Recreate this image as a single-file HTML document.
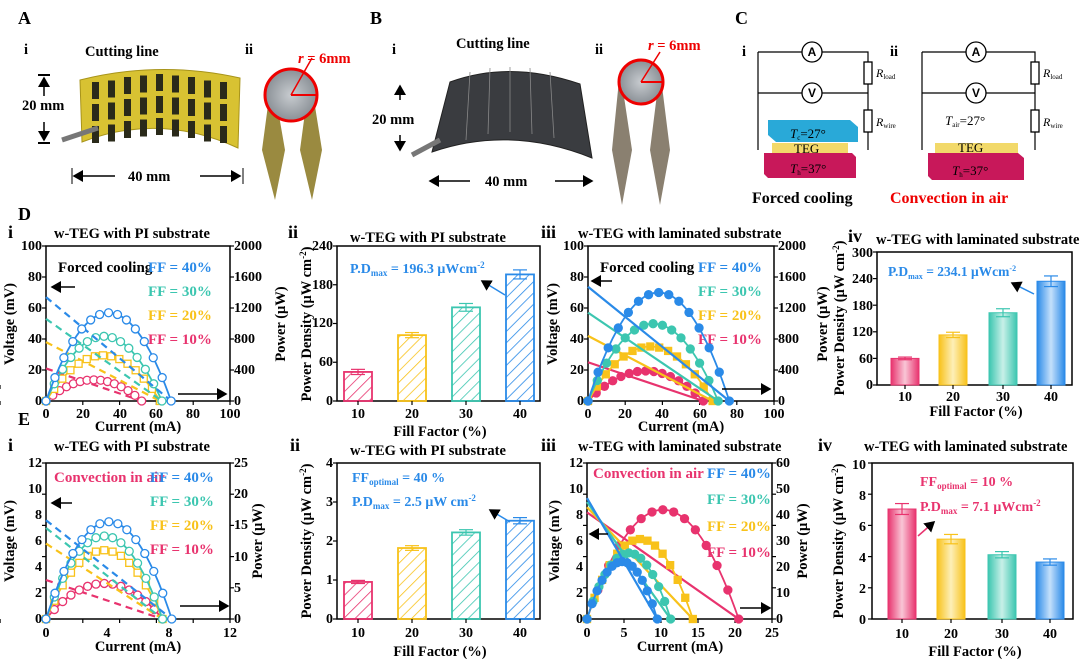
<!DOCTYPE html>
<html><head><meta charset="utf-8"><style>
html,body{margin:0;padding:0;background:#fff;}
svg{display:block;font-family:"Liberation Serif",serif;font-weight:bold;}
.t{font-size:14.5px;}
.k{font-size:14px;}
.L{font-size:18px;}
</style></head><body>
<svg id="s" width="1080" height="667" viewBox="0 0 1080 667" xmlns="http://www.w3.org/2000/svg">
<defs>
<pattern id="hp" width="8" height="8" patternUnits="userSpaceOnUse" patternTransform="rotate(45)"><line x1="0" y1="0" x2="0" y2="8" stroke="#e8336e" stroke-width="1.6"/></pattern>
<pattern id="hy" width="8" height="8" patternUnits="userSpaceOnUse" patternTransform="rotate(45)"><line x1="0" y1="0" x2="0" y2="8" stroke="#f8c21a" stroke-width="1.6"/></pattern>
<pattern id="ht" width="8" height="8" patternUnits="userSpaceOnUse" patternTransform="rotate(45)"><line x1="0" y1="0" x2="0" y2="8" stroke="#3cc6b0" stroke-width="1.6"/></pattern>
<pattern id="hb" width="8" height="8" patternUnits="userSpaceOnUse" patternTransform="rotate(45)"><line x1="0" y1="0" x2="0" y2="8" stroke="#2a8ae8" stroke-width="1.6"/></pattern>
<linearGradient id="gp"><stop offset="0" stop-color="#e8336e"/><stop offset=".5" stop-color="#f9c6d6"/><stop offset="1" stop-color="#e8336e"/></linearGradient>
<linearGradient id="gy"><stop offset="0" stop-color="#f8c21a"/><stop offset=".5" stop-color="#fdefb8"/><stop offset="1" stop-color="#f8c21a"/></linearGradient>
<linearGradient id="gt"><stop offset="0" stop-color="#3cc6b0"/><stop offset=".5" stop-color="#c8f0e8"/><stop offset="1" stop-color="#3cc6b0"/></linearGradient>
<linearGradient id="gb"><stop offset="0" stop-color="#2a8ae8"/><stop offset=".5" stop-color="#c4e0fb"/><stop offset="1" stop-color="#2a8ae8"/></linearGradient>
<radialGradient id="disc"><stop offset="0" stop-color="#c8ccd0"/><stop offset="1" stop-color="#8a9096"/></radialGradient>
<marker id="ah" markerWidth="8" markerHeight="8" refX="6" refY="4" orient="auto"><path d="M0,0 L7,4 L0,8 Z" fill="#000"/></marker>
</defs>

<!-- ===== Top section ===== -->
<text x="18" y="24" class="L">A</text>
<text x="24" y="54" class="t" font-size="15">i</text>
<text x="245" y="54" class="t" font-size="15">ii</text>
<text x="85" y="56" class="t" font-size="15">Cutting line</text>
<path d="M80,80 Q160,60 240,78 L238,148 Q160,112 82,142 Z" fill="#d8c232" stroke="#a8941a"/>
<g id="ygrid"></g>
<path d="M62,140 L98,128" stroke="#777" stroke-width="5"/>
<text x="22" y="110" class="t" font-size="15">20 mm</text>
<line x1="44" y1="96" x2="44" y2="78" stroke="#000" stroke-width="1.5" marker-end="url(#ah)"/>
<line x1="44" y1="122" x2="44" y2="140" stroke="#000" stroke-width="1.5" marker-end="url(#ah)"/>
<line x1="38" y1="75" x2="50" y2="75" stroke="#000" stroke-width="2"/>
<line x1="38" y1="143" x2="50" y2="143" stroke="#000" stroke-width="2"/>
<text x="128" y="181" class="t" font-size="15">40 mm</text>
<line x1="115" y1="176" x2="74" y2="176" stroke="#000" stroke-width="1.5" marker-end="url(#ah)"/>
<line x1="200" y1="176" x2="240" y2="176" stroke="#000" stroke-width="1.5" marker-end="url(#ah)"/>
<line x1="72" y1="168" x2="72" y2="184" stroke="#000"/><line x1="243" y1="168" x2="243" y2="184" stroke="#000"/>
<path d="M272,75 L262,150 L275,200 L285,150 Z M310,75 L322,150 L312,200 L300,150 Z" fill="#9a8a40"/>
<circle cx="291" cy="95" r="26" fill="url(#disc)" stroke="#e00" stroke-width="3"/>
<line x1="291" y1="95" x2="317" y2="95" stroke="#e00" stroke-width="2"/><line x1="291" y1="95" x2="312" y2="58" stroke="#e00" stroke-width="1.5"/>
<text x="298" y="63" class="t" font-size="16" fill="#e00"><tspan font-style="italic">r</tspan> = 6mm</text>

<text x="370" y="24" class="L">B</text>
<text x="392" y="54" class="t" font-size="15">i</text>
<text x="595" y="54" class="t" font-size="15">ii</text>
<text x="456" y="48" class="t" font-size="15">Cutting line</text>
<path d="M450,82 Q510,60 580,84 L592,158 Q510,125 432,152 Z" fill="#3a3c40" stroke="#222"/>
<g stroke="#888" stroke-width="0.8"><line x1="470" y1="72" x2="466" y2="140"/><line x1="490" y1="68" x2="488" y2="134"/><line x1="510" y1="67" x2="510" y2="132"/><line x1="530" y1="68" x2="532" y2="134"/><line x1="550" y1="72" x2="554" y2="138"/></g>
<path d="M412,155 L440,140" stroke="#777" stroke-width="5"/>
<text x="372" y="124" class="t" font-size="15">20 mm</text>
<line x1="400" y1="100" x2="400" y2="86" stroke="#000" stroke-width="1.5" marker-end="url(#ah)"/>
<line x1="400" y1="135" x2="400" y2="150" stroke="#000" stroke-width="1.5" marker-end="url(#ah)"/>
<text x="485" y="186" class="t" font-size="15">40 mm</text>
<line x1="470" y1="181" x2="430" y2="181" stroke="#000" stroke-width="1.5" marker-end="url(#ah)"/>
<line x1="555" y1="181" x2="592" y2="181" stroke="#000" stroke-width="1.5" marker-end="url(#ah)"/>
<path d="M620,70 L612,150 L622,205 L632,150 Z M660,70 L670,150 L660,205 L650,150 Z" fill="#8a8070"/>
<circle cx="641" cy="82" r="22" fill="url(#disc)" stroke="#e00" stroke-width="3"/>
<line x1="641" y1="82" x2="663" y2="82" stroke="#e00" stroke-width="2"/><line x1="641" y1="82" x2="660" y2="52" stroke="#e00" stroke-width="1.5"/>
<text x="648" y="50" class="t" font-size="16" fill="#e00"><tspan font-style="italic">r</tspan> = 6mm</text>

<text x="735" y="24" class="L">C</text>
<text x="742" y="56" class="t" font-size="15">i</text>
<text x="890" y="56" class="t" font-size="15">ii</text>
<g fill="none" stroke="#000" stroke-width="1.2">
<path d="M758,52 H868 V150 M758,52 V150 M758,93 H868"/>
<path d="M922,52 H1035 V150 M922,52 V150 M922,93 H1035"/>
</g>
<g fill="#fff" stroke="#000" stroke-width="1.3">
<circle cx="812" cy="52" r="10"/><circle cx="812" cy="93" r="10"/>
<circle cx="976" cy="52" r="10"/><circle cx="976" cy="93" r="10"/>
<rect x="864" y="62" width="8" height="22"/><rect x="864" y="110" width="8" height="22"/>
<rect x="1031" y="62" width="8" height="22"/><rect x="1031" y="110" width="8" height="22"/>
</g>
<g font-size="12" text-anchor="middle" font-family="Liberation Sans,sans-serif"><text x="812" y="56">A</text><text x="812" y="97">V</text><text x="976" y="56">A</text><text x="976" y="97">V</text></g>
<g font-size="12" font-style="italic" font-weight="normal"><text x="876" y="77">R<tspan font-size="7" font-style="normal" dy="2">load</tspan></text><text x="876" y="126">R<tspan font-size="7" font-style="normal" dy="2">wire</tspan></text><text x="1043" y="77">R<tspan font-size="7" font-style="normal" dy="2">load</tspan></text><text x="1043" y="126">R<tspan font-size="7" font-style="normal" dy="2">wire</tspan></text></g>
<path d="M768,120 L850,120 L858,127 L858,142 L776,142 L768,135 Z" fill="#29a9d8"/>
<path d="M772,143 H848 V153 H772 Z" fill="#f2d96a"/>
<path d="M764,153 L852,153 L856,157 L856,178 L768,178 L764,174 Z" fill="#c8185a"/>
<text x="790" y="138" font-size="13" font-weight="normal"><tspan font-style="italic">T</tspan><tspan font-size="7" dy="2">c</tspan><tspan dy="-2">=27°</tspan></text>
<text x="794" y="153" font-size="13" font-weight="normal">TEG</text>
<text x="790" y="173" font-size="13" font-weight="normal"><tspan font-style="italic">T</tspan><tspan font-size="7" dy="2">h</tspan><tspan dy="-2">=37°</tspan></text>
<path d="M935,143 H1018 V153 H935 Z" fill="#f2d96a"/>
<path d="M928,153 L1018,153 L1024,158 L1024,180 L932,180 L928,176 Z" fill="#c8185a"/>
<text x="945" y="125" font-size="13" font-weight="normal"><tspan font-style="italic">T</tspan><tspan font-size="7" dy="2">air</tspan><tspan dy="-2">=27°</tspan></text>
<text x="958" y="152" font-size="13" font-weight="normal">TEG</text>
<text x="952" y="175" font-size="13" font-weight="normal"><tspan font-style="italic">T</tspan><tspan font-size="7" dy="2">h</tspan><tspan dy="-2">=37°</tspan></text>
<text x="752" y="203" font-size="16">Forced cooling</text>
<text x="890" y="203" font-size="16" fill="#e00">Convection in air</text>

<!-- ===== D row ===== -->
<text x="18" y="220" class="L">D</text>
<text x="8" y="238" class="L" font-size="16">i</text>
<text x="54" y="238" class="t">w-TEG with PI substrate</text>
<text x="288" y="238" class="L" font-size="16">ii</text>
<text x="350" y="242" class="t">w-TEG with PI substrate</text>
<text x="541" y="238" class="L" font-size="16">iii</text>
<text x="578" y="238" class="t">w-TEG with laminated substrate</text>
<text x="848" y="242" class="L" font-size="16">iv</text>
<text x="876" y="244" class="t">w-TEG with laminated substrate</text>

<!-- D i -->
<g class="k" text-anchor="end"><text x="42" y="405">0</text><text x="42" y="374">20</text><text x="42" y="343">40</text><text x="42" y="312">60</text><text x="42" y="281">80</text><text x="42" y="250">100</text></g>
<g class="k"><text x="234" y="405">0</text><text x="234" y="374">400</text><text x="234" y="343">800</text><text x="234" y="312">1200</text><text x="234" y="281">1600</text><text x="234" y="250">2000</text></g>
<g class="k" text-anchor="middle"><text x="46" y="418">0</text><text x="83" y="418">20</text><text x="120" y="418">40</text><text x="156" y="418">60</text><text x="193" y="418">80</text><text x="230" y="418">100</text></g>
<text x="138" y="431" class="t" text-anchor="middle">Current (mA)</text>
<text transform="translate(14,324) rotate(-90)" class="t" text-anchor="middle">Voltage (mV)</text>
<text transform="translate(285,324) rotate(-90)" class="t" text-anchor="middle">Power (μW)</text>
<text x="58" y="272" font-size="15">Forced cooling</text>
<g font-size="15"><text x="148" y="272" fill="#2a8ae8">FF = 40%</text><text x="148" y="296" fill="#3cc6b0">FF = 30%</text><text x="148" y="320" fill="#f8c21a">FF = 20%</text><text x="148" y="344" fill="#e8336e">FF = 10%</text></g>

<!-- D ii -->
<g class="k" text-anchor="end"><text x="333" y="405">0</text><text x="333" y="366">60</text><text x="333" y="327">120</text><text x="333" y="289">180</text><text x="333" y="250">240</text></g>
<g class="k" text-anchor="middle"><text x="358" y="418">10</text><text x="412" y="418">20</text><text x="466" y="418">30</text><text x="520" y="418">40</text></g>
<text x="440" y="436" class="t" text-anchor="middle">Fill Factor (%)</text>
<text transform="translate(311,324) rotate(-90)" class="t" text-anchor="middle">Power Density (μW cm<tspan dy="-5" font-size="9">-2</tspan><tspan dy="5">)</tspan></text>
<text x="350" y="273" font-size="14" fill="#2a8ae8">P.D<tspan font-size="9" dy="3">max</tspan><tspan dy="-3"> = 196.3 μWcm</tspan><tspan font-size="9" dy="-5">-2</tspan></text>

<!-- D iii -->
<g class="k" text-anchor="end"><text x="584" y="405">0</text><text x="584" y="374">20</text><text x="584" y="343">40</text><text x="584" y="312">60</text><text x="584" y="281">80</text><text x="584" y="250">100</text></g>
<g class="k"><text x="778" y="405">0</text><text x="778" y="374">400</text><text x="778" y="343">800</text><text x="778" y="312">1200</text><text x="778" y="281">1600</text><text x="778" y="250">2000</text></g>
<g class="k" text-anchor="middle"><text x="588" y="418">0</text><text x="625" y="418">20</text><text x="662" y="418">40</text><text x="700" y="418">60</text><text x="737" y="418">80</text><text x="774" y="418">100</text></g>
<text x="681" y="431" class="t" text-anchor="middle">Current (mA)</text>
<text transform="translate(557,324) rotate(-90)" class="t" text-anchor="middle">Voltage (mV)</text>
<text transform="translate(827,324) rotate(-90)" class="t" text-anchor="middle">Power (μW)</text>
<text x="600" y="272" font-size="15">Forced cooling</text>
<g font-size="15"><text x="698" y="272" fill="#2a8ae8">FF = 40%</text><text x="698" y="296" fill="#3cc6b0">FF = 30%</text><text x="698" y="320" fill="#f8c21a">FF = 20%</text><text x="698" y="344" fill="#e8336e">FF = 10%</text></g>

<!-- D iv -->
<g class="k" text-anchor="end"><text x="873" y="389">0</text><text x="873" y="363">60</text><text x="873" y="336">120</text><text x="873" y="310">180</text><text x="873" y="283">240</text><text x="873" y="257">300</text></g>
<g class="k" text-anchor="middle"><text x="905" y="401">10</text><text x="953" y="401">20</text><text x="1003" y="401">30</text><text x="1051" y="401">40</text></g>
<text x="976" y="416" class="t" text-anchor="middle">Fill Factor (%)</text>
<text transform="translate(844,318) rotate(-90)" class="t" text-anchor="middle">Power Density (μW cm<tspan dy="-5" font-size="9">-2</tspan><tspan dy="5">)</tspan></text>
<text x="888" y="276" font-size="13.5" fill="#2a8ae8">P.D<tspan font-size="8" dy="3">max</tspan><tspan dy="-3"> = 234.1 μWcm</tspan><tspan font-size="8" dy="-5">-2</tspan></text>

<!-- ===== E row ===== -->
<text x="18" y="425" class="L">E</text>
<text x="8" y="451" class="L" font-size="16">i</text>
<text x="54" y="451" class="t">w-TEG with PI substrate</text>
<text x="290" y="451" class="L" font-size="16">ii</text>
<text x="350" y="455" class="t">w-TEG with PI substrate</text>
<text x="541" y="451" class="L" font-size="16">iii</text>
<text x="578" y="451" class="t">w-TEG with laminated substrate</text>
<text x="818" y="451" class="L" font-size="16">iv</text>
<text x="864" y="451" class="t">w-TEG with laminated substrate</text>

<!-- E i -->
<g class="k" text-anchor="end"><text x="42" y="623">0</text><text x="42" y="597">2</text><text x="42" y="571">4</text><text x="42" y="545">6</text><text x="42" y="519">8</text><text x="42" y="493">10</text><text x="42" y="467">12</text></g>
<g class="k"><text x="234" y="623">0</text><text x="234" y="592">5</text><text x="234" y="561">10</text><text x="234" y="529">15</text><text x="234" y="498">20</text><text x="234" y="467">25</text></g>
<g class="k" text-anchor="middle"><text x="46" y="637">0</text><text x="107" y="637">4</text><text x="169" y="637">8</text><text x="230" y="637">12</text></g>
<text x="138" y="651" class="t" text-anchor="middle">Current (mA)</text>
<text transform="translate(14,541) rotate(-90)" class="t" text-anchor="middle">Voltage (mV)</text>
<text transform="translate(262,541) rotate(-90)" class="t" text-anchor="middle">Power (μW)</text>
<text x="54" y="482" font-size="15" fill="#e8336e">Convection in air</text>
<g font-size="15"><text x="150" y="482" fill="#2a8ae8">FF = 40%</text><text x="150" y="506" fill="#3cc6b0">FF = 30%</text><text x="150" y="530" fill="#f8c21a">FF = 20%</text><text x="150" y="554" fill="#e8336e">FF = 10%</text></g>

<!-- E ii -->
<g class="k" text-anchor="end"><text x="333" y="623">0</text><text x="333" y="584">1</text><text x="333" y="545">2</text><text x="333" y="506">3</text><text x="333" y="467">4</text></g>
<g class="k" text-anchor="middle"><text x="358" y="637">10</text><text x="412" y="637">20</text><text x="466" y="637">30</text><text x="520" y="637">40</text></g>
<text x="440" y="656" class="t" text-anchor="middle">Fill Factor (%)</text>
<text transform="translate(311,541) rotate(-90)" class="t" text-anchor="middle">Power Density (μW cm<tspan dy="-5" font-size="9">-2</tspan><tspan dy="5">)</tspan></text>
<text x="352" y="482" font-size="14" fill="#2a8ae8">FF<tspan font-size="9" dy="3">optimal</tspan><tspan dy="-3"> = 40 %</tspan></text>
<text x="352" y="506" font-size="14" fill="#2a8ae8">P.D<tspan font-size="9" dy="3">max</tspan><tspan dy="-3"> = 2.5 μW cm</tspan><tspan font-size="9" dy="-5">-2</tspan></text>

<!-- E iii -->
<g class="k" text-anchor="end"><text x="583" y="623">0</text><text x="583" y="597">2</text><text x="583" y="571">4</text><text x="583" y="545">6</text><text x="583" y="519">8</text><text x="583" y="493">10</text><text x="583" y="467">12</text></g>
<g class="k"><text x="776" y="623">0</text><text x="776" y="597">10</text><text x="776" y="571">20</text><text x="776" y="545">30</text><text x="776" y="519">40</text><text x="776" y="493">50</text><text x="776" y="467">60</text></g>
<g class="k" text-anchor="middle"><text x="587" y="637">0</text><text x="624" y="637">5</text><text x="661" y="637">10</text><text x="698" y="637">15</text><text x="735" y="637">20</text><text x="772" y="637">25</text></g>
<text x="680" y="651" class="t" text-anchor="middle">Current (mA)</text>
<text transform="translate(559,541) rotate(-90)" class="t" text-anchor="middle">Voltage (mV)</text>
<text transform="translate(807,541) rotate(-90)" class="t" text-anchor="middle">Power (μW)</text>
<text x="593" y="478" font-size="15" fill="#e8336e">Convection in air</text>
<g font-size="15"><text x="707" y="478" fill="#2a8ae8">FF = 40%</text><text x="707" y="504" fill="#3cc6b0">FF = 30%</text><text x="707" y="531" fill="#f8c21a">FF = 20%</text><text x="707" y="557" fill="#e8336e">FF = 10%</text></g>

<!-- E iv -->
<g class="k" text-anchor="end"><text x="866" y="624">0</text><text x="866" y="593">2</text><text x="866" y="562">4</text><text x="866" y="531">6</text><text x="866" y="500">8</text><text x="866" y="469">10</text></g>
<g class="k" text-anchor="middle"><text x="902" y="638">10</text><text x="951" y="638">20</text><text x="1002" y="638">30</text><text x="1050" y="638">40</text></g>
<text x="975" y="656" class="t" text-anchor="middle">Fill Factor (%)</text>
<text transform="translate(843,541) rotate(-90)" class="t" text-anchor="middle">Power Density (μW cm<tspan dy="-5" font-size="9">-2</tspan><tspan dy="5">)</tspan></text>
<text x="920" y="486" font-size="14" fill="#e8336e">FF<tspan font-size="9" dy="3">optimal</tspan><tspan dy="-3"> = 10 %</tspan></text>
<text x="920" y="511" font-size="14" fill="#e8336e">P.D<tspan font-size="9" dy="3">max</tspan><tspan dy="-3"> = 7.1 μWcm</tspan><tspan font-size="9" dy="-5">-2</tspan></text>

<g id="dyn"></g>
</svg>
<script>
(function(){
var NS="http://www.w3.org/2000/svg",g=document.getElementById("dyn");
function el(t,a,p){var e=document.createElementNS(NS,t);for(var k in a)e.setAttribute(k,a[k]);(p||g).appendChild(e);return e;}
var yg=document.getElementById("ygrid");
for(var c=0;c<9;c++)for(var r=0;r<3;r++){var x=92+c*16,y=76+r*22-(Math.abs(c-4)<3?2:0)+Math.abs(c-4)*1.5;el("rect",{x:x,y:y,width:7,height:17,fill:"#2a2a1a"},yg);}
var B="#2a8ae8",T="#3cc6b0",Y="#f8c21a",Pk="#e8336e";
function frame(x0,x1,y0,y1,nx,ny,ny2){
 el("rect",{x:x0,y:y0,width:x1-x0,height:y1-y0,fill:"none",stroke:"#000","stroke-width":1.5});
 var i;for(i=0;i<=nx;i++){var x=x0+(x1-x0)*i/nx;el("line",{x1:x,y1:y1,x2:x,y2:y1+4,stroke:"#000","stroke-width":1.2});}
 for(i=0;i<=ny;i++){var y=y1-(y1-y0)*i/ny;el("line",{x1:x0-4,y1:y,x2:x0,y2:y,stroke:"#000","stroke-width":1.2});}
 if(ny2)for(i=0;i<=ny2;i++){var y=y1-(y1-y0)*i/ny2;el("line",{x1:x1,y1:y,x2:x1+4,y2:y,stroke:"#000","stroke-width":1.2});}
}
function iv(x0,x1,y0,y1,xm,ym,ps,series,dash,filled){
 frame(x0,x1,y0,y1,5,5,5);
 var X=function(v){return x0+(x1-x0)*v/xm},Yf=function(v){return y1-(y1-y0)*v/ym};
 series.forEach(function(s){
  var voc=s[0],isc=s[1],col=s[2],sh=s[3];
  el("line",{x1:X(0),y1:Yf(voc),x2:X(isc),y2:Yf(0),stroke:col,"stroke-width":2.2,"stroke-dasharray":dash?"7,5":"none"});
  var d="",n=40,i;
  for(i=0;i<=n;i++){var I=isc*i/n,P=I*voc*(1-I/isc)/ps;d+=(i?"L":"M")+X(I).toFixed(1)+","+Yf(P).toFixed(1);}
  el("path",{d:d,fill:"none",stroke:col,"stroke-width":1.8});
  var m=14;for(i=0;i<=m;i++){var I=isc*i/m,P=I*voc*(1-I/isc)/ps,cx=X(I),cy=Yf(P);
   var a={fill:filled?col:"#fff",stroke:col,"stroke-width":1.3};
   if(sh=="s"){a.x=cx-3.5;a.y=cy-3.5;a.width=7;a.height=7;el("rect",a);}else{a.cx=cx;a.cy=cy;a.r=4;el("circle",a);}}
 });
}
function arrow(x1,y1,x2,y2,c){el("line",{x1:x1,y1:y1,x2:x2,y2:y2,stroke:c||"#000","stroke-width":1.5,"marker-end":"url(#ah)"});}
iv(46,230,246,401,100,100,20,[[21,52,Pk,"c"],[38,62,Y,"s"],[53,63,T,"c"],[67,68,B,"c"]],true,false);
arrow(75,287,52,287);arrow(178,394,226,394);
iv(588,774,246,401,100,100,20,[[25,62,Pk,"c"],[42,67,Y,"s"],[57,70,T,"c"],[73.7,76,B,"c"]],false,true);
arrow(612,281,592,281);arrow(722,389,770,389);
iv(46,230,463,619,12,12,25/12,[[3,7.6,Pk,"c"],[5.8,7.6,Y,"s"],[7,7.6,T,"c"],[7.6,8.2,B,"c"]],true,false);
arrow(72,503,52,503);arrow(180,606,228,606);
iv(587,772,463,619,25,12,5,[[8.2,20.5,Pk,"c"],[8.6,14.3,Y,"s"],[9,11.3,T,"c"],[9.3,9.5,B,"c"]],false,true);
arrow(608,534,590,534);arrow(740,608,770,608);
function bars(x0,x1,y0,y1,ym,ny,cx,vals,errs,fills,cols,w,hatch){
 frame(x0,x1,y0,y1,0,ny,0);
 var Yf=function(v){return y1-(y1-y0)*v/ym};
 vals.forEach(function(v,i){var x=cx[i]-w/2,y=Yf(v);
  el("rect",{x:x,y:y,width:w,height:y1-y,fill:fills[i],stroke:cols[i],"stroke-width":hatch?1.8:1});
  var e=Yf(v+errs[i]),e2=Yf(v-errs[i]);
  el("line",{x1:cx[i],y1:e,x2:cx[i],y2:e2,stroke:cols[i],"stroke-width":1.2});
  el("line",{x1:cx[i]-7,y1:e,x2:cx[i]+7,y2:e,stroke:cols[i],"stroke-width":1.2});
  el("line",{x1:cx[i]-7,y1:e2,x2:cx[i]+7,y2:e2,stroke:cols[i],"stroke-width":1.2});
  el("line",{x1:cx[i],y1:y1,x2:cx[i],y2:y1+4,stroke:"#000","stroke-width":1.2});
 });
}
var C4=[Pk,Y,T,B];
bars(337,540,246,401,240,4,[358,412,466,520],[45,102,145,196],[4,4,6,7],["url(#hp)","url(#hy)","url(#ht)","url(#hb)"],C4,28,true);
arrow(505,295,482,281,B);
bars(877,1072,252,385,300,5,[905,953,1003,1051],[60,113,163,234],[3,6,9,12],["url(#gp)","url(#gy)","url(#gt)","url(#gb)"],C4,28,false);
arrow(1034,294,1012,283,B);
bars(337,540,463,619,4,4,[358,412,466,520],[0.95,1.82,2.22,2.52],[0.04,0.06,0.07,0.08],["url(#hp)","url(#hy)","url(#ht)","url(#hb)"],C4,28,true);
arrow(510,522,490,510,B);
bars(872,1073,463,619,10,5,[902,951,1002,1050],[7.05,5.12,4.12,3.65],[0.35,0.3,0.2,0.2],["url(#gp)","url(#gy)","url(#gt)","url(#gb)"],C4,28,false);
arrow(918,536,934,522,Pk);
})();
</script>
</body></html>
